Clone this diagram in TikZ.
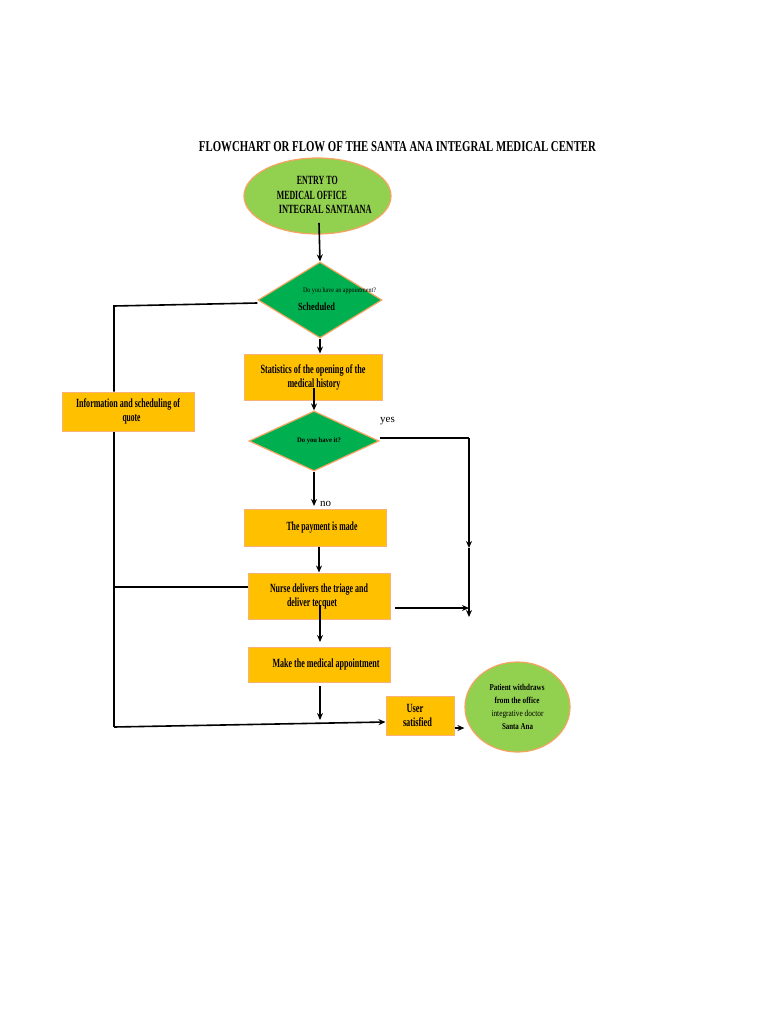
\documentclass[tikz,border=0pt]{standalone}
\usepackage{fontspec}
\setmainfont{Liberation Serif}
\usetikzlibrary{shapes.geometric,arrows.meta}
\definecolor{lgreen}{HTML}{92D050}
\definecolor{dgreen}{HTML}{00B050}
\definecolor{gold}{HTML}{FFC000}
\definecolor{bord}{HTML}{F4A460}
\definecolor{rbord}{HTML}{F7B27A}
\newcommand{\hw}[2]{\resizebox{#1}{\height}{#2}}
\begin{document}
\begin{tikzpicture}[x=1pt,y=-1pt,
  line width=1.6pt,
  arr/.style={-{Stealth[length=7pt,width=6pt]}},
  rbox/.style={rectangle,fill=gold,draw=rbord,line width=1pt,inner sep=0pt,align=center,font=\fontsize{12.5}{14}\bfseries},
  gell/.style={ellipse,fill=lgreen,draw=bord,line width=1.2pt,inner sep=0pt,align=center},
  dia/.style={diamond,fill=dgreen,draw=bord,line width=1.2pt,inner sep=0pt},
  txt/.style={inner sep=0pt,align=center}]
\useasboundingbox (0,0) rectangle (768,1024);
\fill[white] (0,0) rectangle (768,1024);

% title
\node[txt,font=\fontsize{15}{17}\bfseries] (title) at (397.5,147) {\hw{397pt}{FLOWCHART OR FLOW OF THE  SANTA ANA INTEGRAL MEDICAL CENTER}};

% top ellipse
\node[gell,minimum width=147pt,minimum height=76pt] (start) at (317.5,196) {};
\node[txt,font=\fontsize{12.5}{14.5}\bfseries,anchor=north west] (startt) at (276,174) {\begin{tabular}{@{}l@{}}\hspace*{20pt}\hw{41pt}{ENTRY TO}\\\hw{70pt}{MEDICAL OFFICE}\\\hspace*{2pt}\hw{93pt}{INTEGRAL SANTAANA}\end{tabular}};

% diamond 1
\node[dia,minimum width=124pt,minimum height=76pt] (d1) at (320,300) {};
\node[txt,font=\fontsize{7}{8}\selectfont] (d1a) at (339.5,291) {\hw{73pt}{Do you have an appointment?}};
\node[txt,font=\fontsize{11}{12}\bfseries] (d1b) at (316.5,307) {\hw{37pt}{Scheduled}};

% statistics
\node[rbox,minimum width=138pt,minimum height=46pt] (stat) at (313,377) {\hw{105pt}{Statistics of the opening of the}\\\hspace*{2pt}\hw{53pt}{medical history}};

% info
\node[rbox,minimum width=132pt,minimum height=39pt] (info) at (128,411.5) {\hw{104pt}{Information and scheduling of}\\\hspace*{7pt}\hw{18pt}{quote}};

% diamond 2
\node[dia,minimum width=130pt,minimum height=60pt] (d2) at (314,441) {};
\node[txt,font=\fontsize{7}{8}\bfseries] (d2t) at (319,441) {\hw{44pt}{Do you have it?}};
\node[txt,font=\fontsize{11}{12}\selectfont] (yes) at (387.5,421) {yes};
\node[txt,font=\fontsize{11}{12}\selectfont] (no) at (325.5,504) {no};

% payment
\node[rbox,minimum width=142pt,minimum height=37pt] (pay) at (315,527.5) {\hspace*{14pt}\hw{71pt}{The payment is made}};

% nurse
\node[rbox,minimum width=142pt,minimum height=46pt] (nurse) at (319,596) {\hw{98pt}{Nurse delivers the triage and}\\\hspace*{-14pt}\hw{50pt}{deliver tecquet}};

% make appointment
\node[rbox,minimum width=142pt,minimum height=35pt] (make) at (319,664.5) {\hspace*{14pt}\hw{107pt}{Make the medical appointment}};

% user satisfied
\node[rbox,minimum width=68pt,minimum height=39pt] (user) at (420,715.5) {\hspace*{-10pt}\hw{17pt}{User}\\\hspace*{-5pt}\hw{29pt}{satisfied}};

% end ellipse
\node[gell,minimum width=105pt,minimum height=90pt,font=\fontsize{9}{13}\bfseries] (end) at (517.5,707) {\hspace*{-1pt}\hw{55pt}{Patient withdraws}\\\hspace*{-1pt}\hw{45pt}{from the office}\\\hw{52pt}{\mdseries integrative doctor}\\\hw{31pt}{Santa Ana}};

% coordinates
\coordinate (c1) at (114,306);
\coordinate (c2) at (114,727);
\coordinate (c3) at (114,587);
\coordinate (y1) at (469,438);
\coordinate (y2) at (469,548);
\coordinate (y3) at (469,617);
\coordinate (ny) at (469,608);

% connectors
\draw[arr] (319,223) -- (d1.north);
\draw[arr] (d1.south) -- (stat.north -| d1.south);
\draw[arr] (314,388) -- (d2.north);
\draw[arr] (d2.south) -- (314,506);
\draw[arr] (pay.south -| 319,0) -- (nurse.north -| 319,0);
\draw[arr] (320,605) -- (320,642);
\draw[arr] (320,686) -- (320,720);
\draw[arr] (user.east |- 0,728) -- (end.west |- 0,728);

% left loop
\draw (d1.west |- 0,303) -- (c1) -- (info.north -| c1);
\draw (info.south -| c2) -- (c2);
\draw[arr] (c2) -- (user.west |- 0,722);
\draw (nurse.west |- c3) -- (c3);

% yes branch
\draw (d2.east |- y1) -- (y1);
\draw[arr] (y1) -- (y2);
\draw[arr] (y2) -- (y3);
\draw[arr] (395,608) -- (ny);
\end{tikzpicture}
\end{document}
